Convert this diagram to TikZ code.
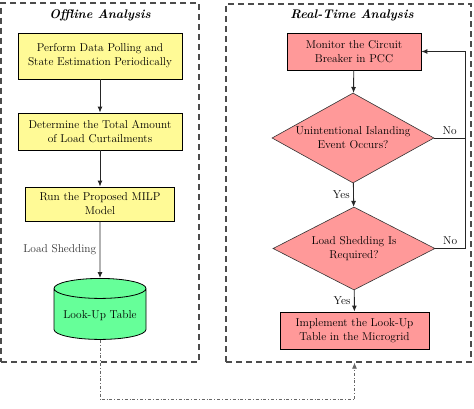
\documentclass[tikz,border=0pt]{standalone}
\usepackage{fontspec}
\usepackage{tikz}
\usetikzlibrary{arrows.meta,positioning,shapes.geometric}

\definecolor{offyellow}{HTML}{FFFA96}
\definecolor{rtred}{HTML}{FF9999}
\definecolor{lutgreen}{HTML}{66FF99}

\tikzset{
	frame/.style={draw=black!70, line width=1.3pt, dash pattern=on 6pt off 4pt},
	title/.style={font=\fontsize{12.5}{15}\selectfont\bfseries\itshape},
	offbox/.style={draw=black, line width=0.8pt, fill=offyellow, align=center},
	rtbox/.style={draw=black, line width=0.8pt, fill=rtred, align=center},
	decide/.style={diamond, draw=black!80, line width=0.6pt, fill=rtred, align=center, inner sep=0pt},
	store/.style={cylinder, shape border rotate=90, aspect=0.25, draw=black, line width=0.8pt, fill=lutgreen},
	flow/.style={->, draw=black!85, line width=0.9pt},
	line/.style={draw=black!85, line width=0.9pt},
	link/.style={->, draw=black!60, line width=0.7pt, dash dot}
}

\begin{document}
\begin{tikzpicture}[x=1pt,y=-1pt,font=\fontsize{11.4}{14}\selectfont,>={Latex[length=6pt,width=5pt]}]
	\useasboundingbox (0,0) rectangle (474,409);
	% frames
	\node[frame, minimum width=198pt, minimum height=359pt] (offframe) at (100,182.5) {};
	\node[frame, minimum width=245pt, minimum height=358pt] (rtframe) at (348.5,183) {};
	\node[title] (offtitle) at (100,15) {Offline Analysis};
	\node[title] (rttitle) at (352,15) {Real-Time Analysis};
	% offline analysis
	\node[offbox, minimum width=164pt, minimum height=46pt] (poll) at (100,56) {Perform Data Polling and\\State Estimation Periodically};
	\node[offbox, minimum width=164pt, minimum height=37pt] (curt) at (100,131.5) {Determine the Total Amount\\of Load Curtailments};
	\node[offbox, minimum width=149pt, minimum height=34pt] (milp) at (100,204) {Run the Proposed MILP\\Model};
	\node[store, minimum width=92pt, minimum height=61pt] (lut) at (100,316) {Look-Up Table};
	% real-time analysis
	\node[rtbox, minimum width=134pt, minimum height=37pt] (mon) at (354,51.5) {Monitor the Circuit\\Breaker in PCC};
	\node[decide, aspect=1.8, minimum width=162pt, minimum height=90pt] (isl) at (353,138) {Unintentional Islanding\\Event Occurs?};
	\node[decide, aspect=1.95, minimum width=162pt, minimum height=83pt] (shed) at (354,248.5) {Load Shedding Is\\Required?};
	\node[rtbox, minimum width=149pt, minimum height=37pt] (imp) at (354.5,330.5) {Implement the Look-Up\\Table in the Microgrid};
	\coordinate (back) at (465,0);
	% connectors
	\draw[flow] (poll) -- (curt);
	\draw[flow] (curt) -- (milp);
	\draw[flow] (milp) -- node[left, text=black!80]{Load Shedding} (lut);
	\draw[flow] (mon) -- (isl);
	\draw[flow] (isl) -- node[left]{Yes} (shed);
	\draw[flow] (shed) -- node[left]{Yes} (imp);
	\draw[line] (isl.east) -- node[above]{No} (isl.east -| back);
	\draw[flow] (shed.east) -- node[above]{No} (shed.east -| back) -- (back |- mon.east) -- (mon.east);
	\draw[link] (lut.south) -- ++(0,60) -| (imp.south |- rtframe.south);
\end{tikzpicture}
\end{document}
